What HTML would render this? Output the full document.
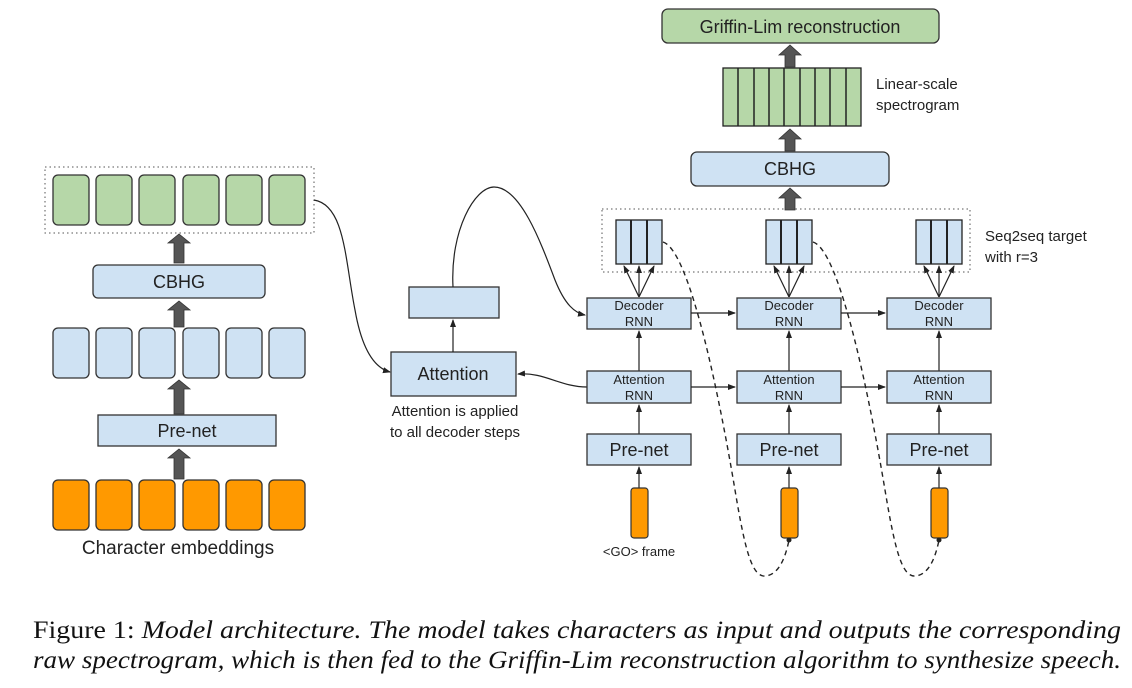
<!DOCTYPE html>
<html><head><meta charset="utf-8"><style>
html,body{margin:0;padding:0;background:#fff;}
svg{display:block;font-family:"Liberation Sans",Arial,sans-serif;}
.cap{font-family:"Liberation Serif",serif;}
</style></head><body>
<svg width="1132" height="688" viewBox="0 0 1132 688" xmlns="http://www.w3.org/2000/svg">
<defs>
<marker id="a" markerWidth="8" markerHeight="8" refX="7" refY="4" orient="auto" markerUnits="userSpaceOnUse"><path d="M0,1 L8,4 L0,7 z" fill="#222"/></marker>
</defs>
<rect width="1132" height="688" fill="#fff"/>

<!-- LEFT: encoder -->
<rect x="45" y="167" width="269" height="66" fill="none" stroke="#555" stroke-dasharray="1.5,3"/>
<g fill="#b6d7a8" stroke="#333" stroke-width="1.3">
<rect x="53" y="175" width="36" height="50" rx="5"/><rect x="96" y="175" width="36" height="50" rx="5"/><rect x="139" y="175" width="36" height="50" rx="5"/><rect x="183" y="175" width="36" height="50" rx="5"/><rect x="226" y="175" width="36" height="50" rx="5"/><rect x="269" y="175" width="36" height="50" rx="5"/>
</g>
<g fill="#cfe2f3" stroke="#333" stroke-width="1.3">
<rect x="53" y="328" width="36" height="50" rx="5"/><rect x="96" y="328" width="36" height="50" rx="5"/><rect x="139" y="328" width="36" height="50" rx="5"/><rect x="183" y="328" width="36" height="50" rx="5"/><rect x="226" y="328" width="36" height="50" rx="5"/><rect x="269" y="328" width="36" height="50" rx="5"/>
<rect x="93" y="265" width="172" height="33" rx="5"/>
<rect x="98" y="415" width="178" height="31"/>
</g>
<g fill="#555" stroke="#333" stroke-width="0.8">
<path d="M174,263 v-20 h-6 l11,-9 l11,9 h-6 v20 z"/>
<path d="M174,327 v-17 h-6 l11,-9 l11,9 h-6 v17 z"/>
<path d="M174,414 v-25 h-6 l11,-9 l11,9 h-6 v25 z"/>
<path d="M174,479 v-21 h-6 l11,-9 l11,9 h-6 v21 z"/>
</g>
<g fill="#f90" stroke="#333" stroke-width="1.3">
<rect x="53" y="480" width="36" height="50" rx="5"/><rect x="96" y="480" width="36" height="50" rx="5"/><rect x="139" y="480" width="36" height="50" rx="5"/><rect x="183" y="480" width="36" height="50" rx="5"/><rect x="226" y="480" width="36" height="50" rx="5"/><rect x="269" y="480" width="36" height="50" rx="5"/>
</g>
<text x="179" y="288" font-size="18" text-anchor="middle" fill="#222">CBHG</text>
<text x="187" y="437" font-size="18" text-anchor="middle" fill="#222">Pre-net</text>
<text x="178" y="554" font-size="19" text-anchor="middle" fill="#222">Character embeddings</text>

<!-- MIDDLE: attention -->
<rect x="391" y="352" width="125" height="44" fill="#cfe2f3" stroke="#333" stroke-width="1.3"/>
<text x="453" y="380" font-size="18" text-anchor="middle" fill="#222">Attention</text>
<rect x="409" y="287" width="90" height="31" fill="#cfe2f3" stroke="#333" stroke-width="1.3"/>
<line x1="453" y1="352" x2="453" y2="320" stroke="#222" stroke-width="1.2" marker-end="url(#a)"/>
<path d="M314,200 C345,205 345,260 355,310 C362,350 375,368 390,372" fill="none" stroke="#222" stroke-width="1.2" marker-end="url(#a)"/>
<path d="M453,287 C450,230 475,187 494,187 C520,187 540,240 555,280 C565,305 575,313 585,315" fill="none" stroke="#222" stroke-width="1.2" marker-end="url(#a)"/>
<path d="M587,387 C560,387 545,372 518,374" fill="none" stroke="#222" stroke-width="1.2" marker-end="url(#a)"/>
<text x="455" y="416" font-size="15" text-anchor="middle" fill="#222">Attention is applied</text>
<text x="455" y="437" font-size="15" text-anchor="middle" fill="#222">to all decoder steps</text>

<!-- RIGHT: decoder -->
<rect x="662" y="9" width="277" height="34" rx="6" fill="#b6d7a8" stroke="#333" stroke-width="1.3"/>
<text x="800" y="33" font-size="18" text-anchor="middle" fill="#222">Griffin-Lim reconstruction</text>
<rect x="723" y="68" width="138" height="58" fill="#b6d7a8" stroke="#222" stroke-width="1.3"/>
<g stroke="#222" stroke-width="1.5">
<line x1="738" y1="68" x2="738" y2="126"/><line x1="754" y1="68" x2="754" y2="126"/><line x1="769" y1="68" x2="769" y2="126"/><line x1="784" y1="68" x2="784" y2="126"/><line x1="800" y1="68" x2="800" y2="126"/><line x1="815" y1="68" x2="815" y2="126"/><line x1="830" y1="68" x2="830" y2="126"/><line x1="846" y1="68" x2="846" y2="126"/>
</g>
<text x="876" y="89" font-size="15" fill="#222">Linear-scale</text>
<text x="876" y="110" font-size="15" fill="#222">spectrogram</text>
<rect x="691" y="152" width="198" height="34" rx="6" fill="#cfe2f3" stroke="#333" stroke-width="1.3"/>
<text x="790" y="175" font-size="18" text-anchor="middle" fill="#222">CBHG</text>
<g fill="#555" stroke="#333" stroke-width="0.8">
<path d="M785,67 v-12 h-6 l11,-10 l11,10 h-6 v12 z"/>
<path d="M785,151 v-12 h-6 l11,-10 l11,10 h-6 v12 z"/>
<path d="M785,210 v-12 h-6 l11,-10 l11,10 h-6 v12 z"/>
</g>
<rect x="602" y="209" width="368" height="63" fill="none" stroke="#555" stroke-dasharray="1.5,3"/>
<text x="985" y="241" font-size="15" fill="#222">Seq2seq target</text>
<text x="985" y="262" font-size="15" fill="#222">with r=3</text>

<!-- three columns -->
<g id="c1">
<rect x="616" y="220" width="46" height="44" fill="#cfe2f3" stroke="#222" stroke-width="1.3"/>
<line x1="631" y1="220" x2="631" y2="264" stroke="#222" stroke-width="2"/><line x1="647" y1="220" x2="647" y2="264" stroke="#222" stroke-width="2"/>
<g stroke="#222" stroke-width="1.2" marker-end="url(#a)">
<line x1="639" y1="297" x2="624" y2="266"/><line x1="639" y1="297" x2="639" y2="266"/><line x1="639" y1="297" x2="654" y2="266"/>
</g>
<rect x="587" y="298" width="104" height="31" fill="#cfe2f3" stroke="#333" stroke-width="1.3"/>
<text x="639" y="310" font-size="13" text-anchor="middle" fill="#222">Decoder</text>
<text x="639" y="326" font-size="13" text-anchor="middle" fill="#222">RNN</text>
<line x1="639" y1="371" x2="639" y2="331" stroke="#222" stroke-width="1.2" marker-end="url(#a)"/>
<rect x="587" y="371" width="104" height="32" fill="#cfe2f3" stroke="#333" stroke-width="1.3"/>
<text x="639" y="384" font-size="13" text-anchor="middle" fill="#222">Attention</text>
<text x="639" y="400" font-size="13" text-anchor="middle" fill="#222">RNN</text>
<line x1="639" y1="434" x2="639" y2="405" stroke="#222" stroke-width="1.2" marker-end="url(#a)"/>
<rect x="587" y="434" width="104" height="31" fill="#cfe2f3" stroke="#333" stroke-width="1.3"/>
<text x="639" y="456" font-size="18" text-anchor="middle" fill="#222">Pre-net</text>
<line x1="639" y1="488" x2="639" y2="467" stroke="#222" stroke-width="1.2" marker-end="url(#a)"/>
<rect x="631" y="488" width="17" height="50" rx="3" fill="#f90" stroke="#333" stroke-width="1.2"/>
</g>
<use href="#c1" x="150"/>
<use href="#c1" x="300"/>
<text x="639" y="556" font-size="13" text-anchor="middle" fill="#222">&lt;GO&gt; frame</text>

<!-- horizontal recurrences -->
<g stroke="#222" stroke-width="1.2" marker-end="url(#a)">
<line x1="691" y1="313" x2="735" y2="313"/><line x1="841" y1="313" x2="885" y2="313"/>
<line x1="691" y1="387" x2="735" y2="387"/><line x1="841" y1="387" x2="885" y2="387"/>
</g>
<!-- dashed feedback -->
<g fill="none" stroke="#222" stroke-width="1.4" stroke-dasharray="5,4">
<path d="M663,242 C690,250 720,400 735,490 C745,550 752,578 766,576 C780,574 786,555 789,540"/>
<path d="M813,242 C840,250 870,400 885,490 C895,550 902,578 916,576 C930,574 936,555 939,540"/>
</g>
<circle cx="789" cy="540" r="2.5" fill="#222"/>
<circle cx="939" cy="540" r="2.5" fill="#222"/>

<!-- caption -->
<text class="cap" x="33" y="638" font-size="25" fill="#111" textLength="1088" lengthAdjust="spacingAndGlyphs">Figure 1: <tspan font-style="italic">Model architecture. The model takes characters as input and outputs the corresponding</tspan></text>
<text class="cap" x="33" y="668" font-size="25" font-style="italic" fill="#111" textLength="1088" lengthAdjust="spacingAndGlyphs">raw spectrogram, which is then fed to the Griffin-Lim reconstruction algorithm to synthesize speech.</text>
</svg>
</body></html>
